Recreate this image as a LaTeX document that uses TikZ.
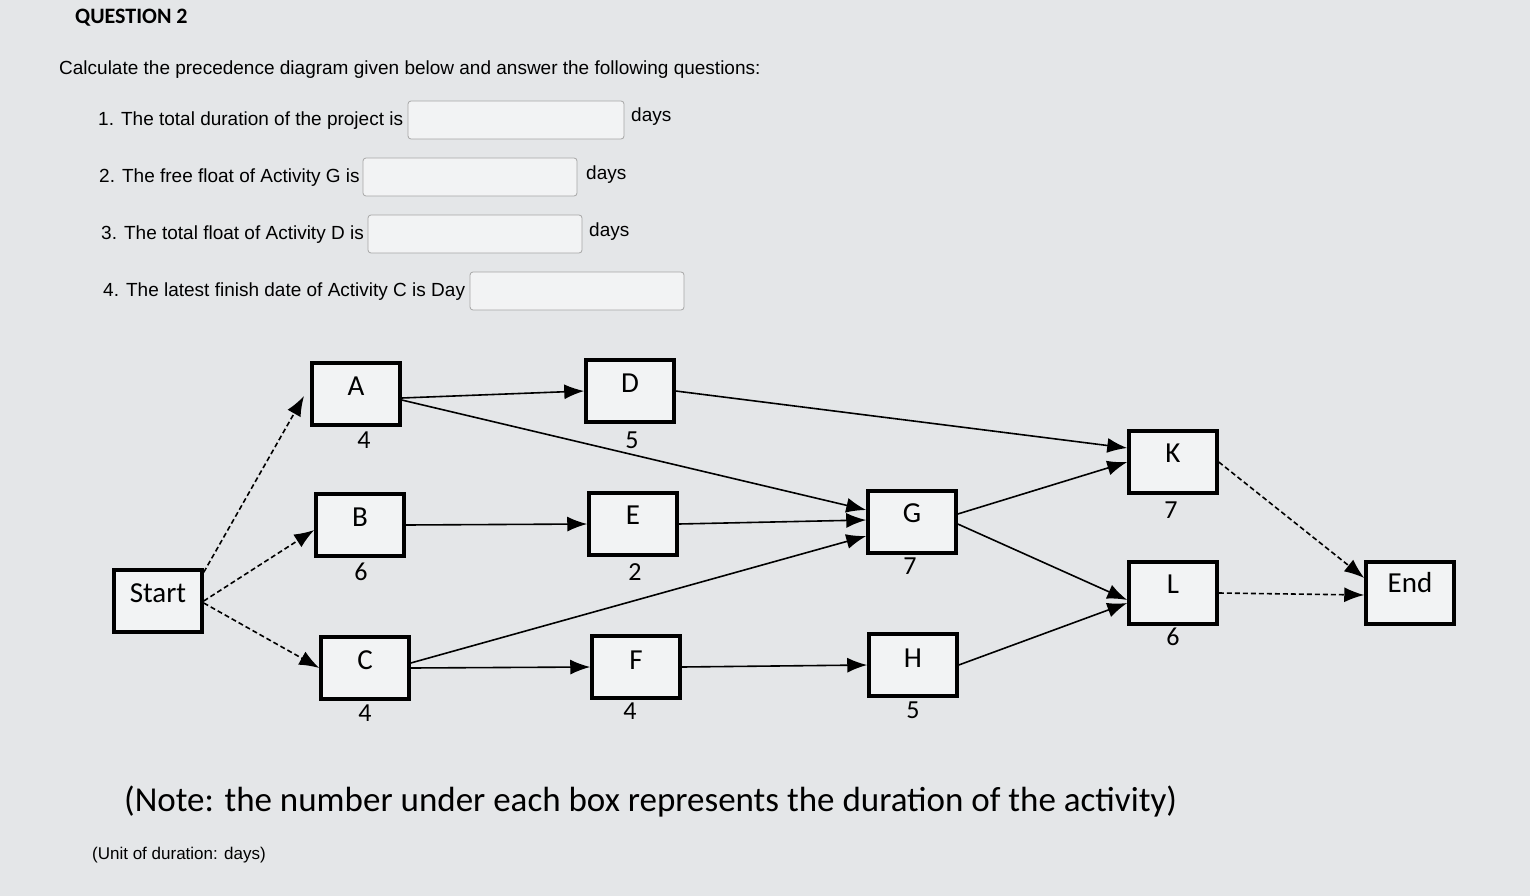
\documentclass[tikz,border=0pt]{standalone}
\usepackage{fontspec}
\setmainfont{Liberation Sans}
\newfontfamily\calfont{Carlito}
\usetikzlibrary{arrows.meta}
\definecolor{bg}{HTML}{E4E6E8}
\definecolor{boxbg}{HTML}{F2F3F4}
\tikzset{
 act/.style={draw=black,line width=3.5pt,fill=boxbg,minimum width=88pt,minimum height=62pt,inner sep=0pt,anchor=center},
 lab/.style={font=\calfont\fontsize{29}{30}\selectfont,inner sep=0pt},
 dur/.style={font=\calfont\fontsize{26}{28}\selectfont,inner sep=0pt},
 arr/.style={line width=1.6pt,-{Latex[length=20pt,width=15pt]}},
 darr/.style={arr,dash pattern=on 5pt off 3pt},
 ans/.style={draw=gray!70,rounded corners=3pt,fill=boxbg,line width=0.8pt,minimum height=38pt,inner sep=0pt},
 q/.style={font=\fontsize{19}{22}\selectfont,anchor=west,inner sep=0pt},
}
\begin{document}
\begin{tikzpicture}[x=1pt,y=-1pt]
\fill[bg] (0,0) rectangle (1530,896);
\useasboundingbox (0,0) rectangle (1530,896);
\node[anchor=west,font=\calfont\bfseries\fontsize{22}{24}\selectfont,inner sep=0pt] (title) at (75,18) {QUESTION 2};
\node[q] (intro) at (59,70) {Calculate the precedence diagram given below and answer the following questions:};
\node[q] (q1) at (98,121) {1. The total duration of the project is};
\node[ans,minimum width=216pt] (b1) at (516,120) {};
\node[q] (d1) at (631,117) {days};
\node[q] (q2) at (99,178) {2. The free float of Activity G is};
\node[ans,minimum width=214pt] (b2) at (470,177) {};
\node[q] (d2) at (586,175) {days};
\node[q] (q3) at (101,235) {3. The total float of Activity D is};
\node[ans,minimum width=214pt] (b3) at (475,234) {};
\node[q] (d3) at (589,232) {days};
\node[q] (q4) at (103,292) {4. The latest finish date of Activity C is Day};
\node[ans,minimum width=214pt] (b4) at (577,291) {};

\node[act] (A) at (356,394) {};
\node[act] (D) at (630,391) {};
\node[act] (B) at (360,525) {};
\node[act] (E) at (633,524) {};
\node[act] (C) at (365,668) {};
\node[act] (F) at (636,667) {};
\node[act] (G) at (912,522) {};
\node[act] (H) at (913,665) {};
\node[act] (K) at (1173,462) {};
\node[act] (L) at (1173,593) {};
\node[act] (S) at (158,601) {};
\node[act] (End) at (1410,593) {};
\node[lab] (tA) at (356,386) {A};
\node[lab] (tD) at (630,383) {D};
\node[lab] (tB) at (360,517) {B};
\node[lab] (tE) at (633,515) {E};
\node[lab] (tC) at (365,660) {C};
\node[lab] (tF) at (636,660) {F};
\node[lab] (tG) at (912,513) {G};
\node[lab] (tH) at (913,658) {H};
\node[lab] (tK) at (1173,453) {K};
\node[lab] (tL) at (1173,584) {L};
\node[lab] (tS) at (158,593) {Start};
\node[lab] (tEnd) at (1410,583) {End};

\node[dur] (nA) at (364,440) {4};
\node[dur] (nD) at (632,440) {5};
\node[dur] (nB) at (361,572) {6};
\node[dur] (nE) at (635,572) {2};
\node[dur] (nC) at (365,713) {4};
\node[dur] (nF) at (630,711) {4};
\node[dur] (nG) at (910,566) {7};
\node[dur] (nH) at (913,710) {5};
\node[dur] (nK) at (1171,510) {7};
\node[dur] (nL) at (1173,637) {6};

\coordinate (aA) at (304,396);
\draw[darr] ([yshift=-4pt]S.north east) -- (aA);
\draw[darr] (S.east) -- ([yshift=-5pt]B.west);
\draw[darr] ([yshift=-2pt]S.east) -- (C.west);
\draw[arr] ([yshift=-4pt]A.east) -- ([yshift=0pt]D.west);
\draw[arr] ([yshift=-6pt]A.east) -- ([yshift=12pt]G.west);
\draw[arr] (D.east) -- ([yshift=14pt]K.west);
\draw[arr] (B.east) -- (E.west);
\draw[arr] (E.east) -- ([yshift=2pt]G.west);
\draw[arr] ([yshift=5pt]C.east) -- ([yshift=-14pt]G.west);
\draw[arr] (C.east) -- (F.west);
\draw[arr] (F.east) -- (H.west);
\draw[arr] ([yshift=8pt]G.east) -- (K.west);
\draw[arr] ([yshift=-2pt]G.east) -- ([yshift=-7pt]L.west);
\draw[arr] (H.east) -- ([yshift=-10pt]L.west);
\draw[darr] (K.east) -- ([yshift=15pt]End.west);
\draw[darr] (L.east) -- ([yshift=-2pt]End.west);

\node[anchor=west,font=\calfont\fontsize{35}{38}\selectfont,inner sep=0pt] (note) at (124,802) {(Note: the number under each box represents the duration of the activity)};
\node[q,font=\fontsize{17}{20}\selectfont] (unit) at (92,855) {(Unit of duration: days)};
\end{tikzpicture}
\end{document}
